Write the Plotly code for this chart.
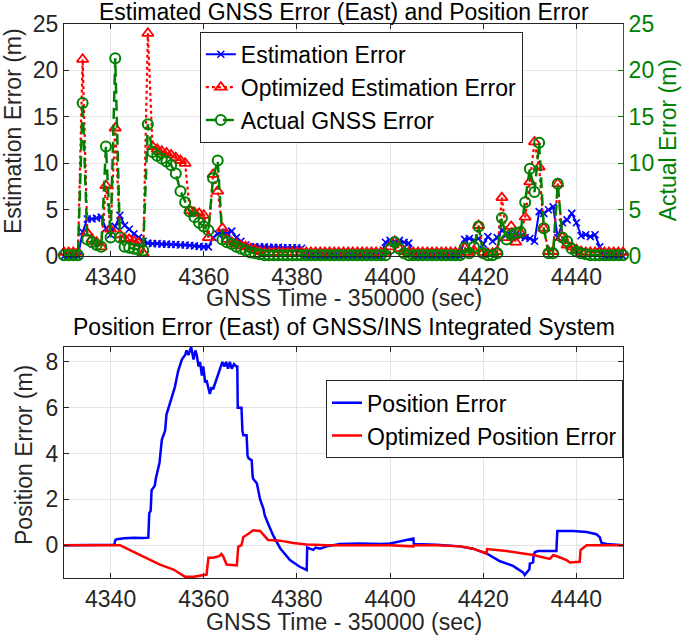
"""
GNSS 東向誤差：估計誤差 / 優化估計誤差 / 實際誤差 + 組合導航位置誤差
數值為從原圖讀取的近似值
"""
import plotly.graph_objects as go

# ── 上圖：1 Hz 取樣（GNSS Time - 350000）────────────────────
TIME = list(range(4330, 4451))

EST_ERR = (
    [0, 0, 0, 0, 2.6, 4.0, 4.0, 4.1, 4.2, 3.0, 2.3, 3.2, 4.4, 3.3, 2.9, 2.4,
     2.0, 1.6, 1.4, 1.35, 1.35, 1.3, 1.3, 1.25, 1.25, 1.2, 1.2, 1.15, 1.1,
     1.05, 1.0, 1.0, 2.0, 2.4, 2.6, 2.5, 2.7, 2.0, 1.6, 1.2, 1.0, 1.0, 1.0,
     1.0, 0.95, 0.95, 0.95, 0.9, 0.9, 0.9, 0.9, 0.85, 0.1]
    + [0] * 16
    + [1.5, 1.7, 1.6, 1.7, 1.5, 1.4]
    + [0] * 11
    + [1.8, 1.9, 1.7, 1.9, 1.3, 2.1, 1.6, 2.0, 2.8, 2.3, 2.2, 2.3, 2.1, 2.0,
       1.9, 1.6, 4.8, 4.6, 5.0, 5.3, 2.0, 3.6, 3.9, 4.6, 3.6, 2.2, 2.3, 2.1,
       2.3, 1.0]
    + [0] * 5
)

OPT_EST_ERR = (
    [0.4, 0.4, 0.4, 0.4, 21.2, 2.5, 1.8, 1.5, 1.0, 7.6, 2.9, 13.8, 2.3, 1.9,
     1.8, 1.6, 1.4, 0.3, 24.0, 11.8, 11.5, 11.3, 11.1, 10.9, 10.6, 10.3, 10.0,
     4.9, 4.7, 4.6, 4.4, 2.0, 8.8, 7.0, 3.0, 1.8, 1.5, 1.3, 1.1, 1.0, 0.8,
     0.7, 0.5]
    + [0.4] * 26
    + [0.4, 1.0, 1.6, 0.8, 0.5]
    + [0.4] * 12
    + [0.9, 0.4, 0.6, 3.3, 0.4, 0.3, 0.3, 0.5, 6.3, 2.0, 3.2, 1.5, 2.5, 4.2,
       8.0, 12.3, 9.6, 3.0, 0.5, 0.5, 7.8, 2.0, 1.2, 1.0, 0.7, 0.5]
    + [0.4] * 9
)

ACT_ERR = (
    [0.1, 0.1, 0.1, 0.1, 16.5, 1.8, 1.5, 1.2, 1.0, 11.8, 2.0, 21.3, 2.0, 1.0,
     0.9, 0.8, 0.7, 0.6, 14.2, 11.2, 10.8, 10.5, 10.2, 9.8, 8.9, 7.0, 5.8,
     4.8, 4.2, 3.6, 3.2, 2.8, 8.4, 10.3, 1.8, 1.5, 1.3, 1.0, 0.8, 0.6, 0.4,
     0.3, 0.2]
    + [0.1] * 27
    + [0.8, 1.5, 0.8, 0.3]
    + [0.1] * 12
    + [0.9, 0.3, 1.0, 3.2, 0.3, 0.1, 0.1, 0.3, 4.1, 1.8, 2.3, 2.5, 2.6, 5.8,
       9.4, 6.9, 12.2, 3.0, 0.3, 0.3, 7.8, 2.0, 1.6, 0.8, 0.5, 0.3, 0.2]
    + [0.1] * 8
)

# ── 下圖：位置誤差折點（時間, 值）──────────────────────────
POS_T = [4330, 4339.5, 4340.8, 4341.0, 4341.3, 4343, 4345, 4347, 4348.1, 4348.3,
         4348.6, 4348.8, 4349.5, 4349.7, 4350.5, 4351.0, 4351.7, 4352.0, 4352.7,
         4353.8, 4354.5, 4355.3, 4356.0, 4356.3, 4356.7, 4357.3, 4357.8, 4358.2,
         4358.5, 4358.9, 4359.2, 4359.6, 4359.9, 4360.3, 4360.6, 4361.0, 4361.3,
         4361.7, 4362.0, 4362.5, 4362.8, 4363.5, 4364.0, 4364.4, 4364.8, 4365.2,
         4365.6, 4366.0, 4366.5, 4367.0, 4367.2, 4367.3, 4368.1, 4368.3, 4368.5,
         4369.2, 4369.4, 4369.6, 4370.3, 4370.5, 4370.6, 4371.4, 4371.8, 4372.1,
         4372.8, 4373.1, 4373.8, 4374.9, 4376.4, 4378.5, 4380.6, 4382.1, 4382.2,
         4383.5, 4384.0, 4385.0, 4386.4, 4389.2, 4393.5, 4398, 4400, 4405,
         4405.1, 4410, 4415.0, 4417.8, 4420.7, 4423.6, 4426.4, 4428.6, 4428.9,
         4429.3, 4429.9, 4430.0, 4430.7, 4430.8, 4431.1, 4431.8, 4435.7, 4435.9,
         4439.3, 4442.2, 4444.3, 4445.0, 4445.4, 4446.5, 4450]
POS_ERR = [0.0, 0.0, 0.02, 0.22, 0.26, 0.3, 0.33, 0.32, 0.33, 1.4,
           1.5, 2.4, 2.6, 2.9, 3.6, 4.6, 5.0, 5.7, 6.2,
           6.9, 7.6, 8.1, 8.3, 8.5, 8.3, 8.65, 8.1, 8.5,
           8.3, 7.8, 8.0, 7.4, 7.8, 7.1, 7.2, 6.9, 6.6,
           6.9, 6.8, 7.1, 7.3, 7.7, 8.0, 7.8, 8.0, 7.7,
           8.0, 7.7, 7.9, 7.8, 7.8, 6.0, 6.0, 5.0, 4.8,
           4.8, 3.9, 3.8, 3.7, 3.0, 2.9, 2.7, 2.2, 2.0,
           1.6, 1.3, 0.95, 0.43, -0.13, -0.65, -0.94, -1.08, -0.1,
           -0.2, -0.1, -0.15, -0.05, 0.05, 0.07, 0.05, 0.08, 0.29,
           0.05, 0.02, -0.05, -0.15, -0.36, -0.7, -0.9, -1.2, -1.3,
           -1.2, -1.05, -0.8, -0.75, -0.45, -0.3, -0.25, -0.25, 0.62,
           0.62, 0.58, 0.48, 0.35, 0.1, 0.05, 0.0]

OPT_T = [4330, 4342.0, 4343.5, 4347.7, 4350.6, 4353.5, 4356.0, 4357.8, 4359.2,
         4360.6, 4361.0, 4362.0, 4363.3, 4363.8, 4364.2, 4364.9, 4367.1, 4367.4,
         4368.1, 4368.5, 4369.6, 4370.6, 4372.1, 4372.8, 4373.8, 4376.4, 4379.2,
         4382.1, 4386.4, 4395, 4400, 4405, 4405.1, 4410, 4415.0, 4417.8, 4420.7,
         4420.8, 4425, 4430.7, 4434.3, 4435.0, 4435.8, 4437.9, 4438.6, 4440.7,
         4440.9, 4442.2, 4445, 4450]
OPT_POS_ERR = [0.0, 0.0, -0.15, -0.58, -0.85, -1.06, -1.38, -1.38, -1.33,
               -1.28, -0.55, -0.55, -0.48, -0.38, -0.5, -0.84, -0.88, -0.07,
               0.0, 0.36, 0.5, 0.65, 0.62, 0.45, 0.23, 0.2, 0.1,
               0.03, 0.0, 0.0, 0.0, -0.05, 0.0, 0.0, -0.05, -0.15, -0.36,
               -0.17, -0.25, -0.43, -0.6, -0.43, -0.48, -0.65, -0.75, -0.72,
               -0.2, 0.0, 0.0, 0.0]

BLUE, RED, GREEN = '#0000FF', '#FF0000', '#008000'
INK = '#262626'
GRID = '#E3E3E3'
FONT = 'Liberation Sans, Arial, sans-serif'
FS = 23

fig = go.Figure()

# ── 上圖 traces ────────────────────────────────────────────
fig.add_trace(go.Scatter(
    x=TIME, y=EST_ERR, name='Estimation Error', mode='lines+markers',
    line=dict(color=BLUE, width=2),
    marker=dict(symbol='x-thin-open', size=7, line=dict(color=BLUE, width=1.6)),
    xaxis='x', yaxis='y', legend='legend', cliponaxis=False,
))
fig.add_trace(go.Scatter(
    x=TIME, y=OPT_EST_ERR, name='Optimized Estimation Error', mode='lines+markers',
    line=dict(color=RED, width=2.2, dash='dot'),
    marker=dict(symbol='triangle-up-open', size=10, color=RED, line=dict(width=1.8)),
    xaxis='x', yaxis='y', legend='legend', cliponaxis=False,
))
fig.add_trace(go.Scatter(
    x=TIME, y=ACT_ERR, name='Actual GNSS Error', mode='lines+markers',
    line=dict(color=GREEN, width=2.5, dash='11px,6px'),
    marker=dict(symbol='circle-open', size=10, color=GREEN, line=dict(width=2)),
    xaxis='x', yaxis='y2', legend='legend', cliponaxis=False,
))

# ── 下圖 traces ────────────────────────────────────────────
fig.add_trace(go.Scatter(
    x=POS_T, y=POS_ERR, name='Position Error', mode='lines',
    line=dict(color=BLUE, width=2.5),
    xaxis='x2', yaxis='y3', legend='legend2',
))
fig.add_trace(go.Scatter(
    x=OPT_T, y=OPT_POS_ERR, name='Optimized Position Error', mode='lines',
    line=dict(color=RED, width=2.5),
    xaxis='x2', yaxis='y3', legend='legend2',
))

axis_common = dict(
    showline=True, linecolor=INK, linewidth=1, ticks='inside', ticklen=5,
    tickcolor=INK, showgrid=True, gridcolor=GRID, zeroline=False,
    tickfont=dict(size=FS, color=INK), automargin=False,
)


def label(text, x, y, color=INK, angle=0):
    return dict(text=text, x=x, y=y, xref='paper', yref='paper',
                xanchor='center', yanchor='middle', textangle=angle,
                showarrow=False, font=dict(size=FS, color=color))


annotations = [
    label('Estimated GNSS Error (East) and Position Error', 0.5, 1.022, '#000000'),
    label('GNSS Time - 350000 (sec)', 0.5, 0.505),
    label('Estimation Error (m)', -0.091, 0.807, angle=-90),
    label('Actual Error (m)', 1.0805, 0.79, GREEN, angle=-90),
    label('Position Error (East) of GNSS/INS Integrated System', 0.5, 0.453, '#000000'),
    label('GNSS Time - 350000 (sec)', 0.5, -0.079),
    label('Position Error (m)', -0.0716, 0.222, angle=-90),
]

fig.update_layout(
    width=685, height=638,
    margin=dict(l=64, r=62, t=24, b=60),
    paper_bgcolor='white', plot_bgcolor='white',
    font=dict(family=FONT, size=FS, color=INK),
    showlegend=True,
    xaxis=dict(axis_common, domain=[0, 1], anchor='y', range=[4330, 4450],
               dtick=20, mirror='ticks'),
    yaxis=dict(axis_common, domain=[0.581, 1], anchor='x', range=[0, 25],
               dtick=5),
    yaxis2=dict(axis_common, overlaying='y', side='right', anchor='x',
                range=[0, 25], dtick=5, showgrid=False, linecolor=GREEN,
                tickcolor=GREEN, tickfont=dict(size=FS, color=GREEN)),
    xaxis2=dict(axis_common, domain=[0, 1], anchor='y3', range=[4330, 4450],
                dtick=20, mirror='ticks'),
    yaxis3=dict(axis_common, domain=[0, 0.417], anchor='x2',
                range=[-1.43, 8.65], tickvals=[0, 2, 4, 6, 8], mirror='ticks'),
    legend=dict(x=0.243, y=0.986, xanchor='left', yanchor='top',
                bgcolor='white', bordercolor=INK, borderwidth=1,
                font=dict(size=FS, color='#000000')),
    legend2=dict(x=1.0, y=0.357, xanchor='right', yanchor='top',
                 bgcolor='white', bordercolor=INK, borderwidth=1,
                 font=dict(size=FS, color='#000000')),
    annotations=annotations,
)

# 去掉頁面 body 預設 8px 邊距，圖表貼齊視窗左上角；隱藏工具列
fig.write_html('out.html', config={'displayModeBar': False},
               post_script="document.body.style.margin = '0';")
